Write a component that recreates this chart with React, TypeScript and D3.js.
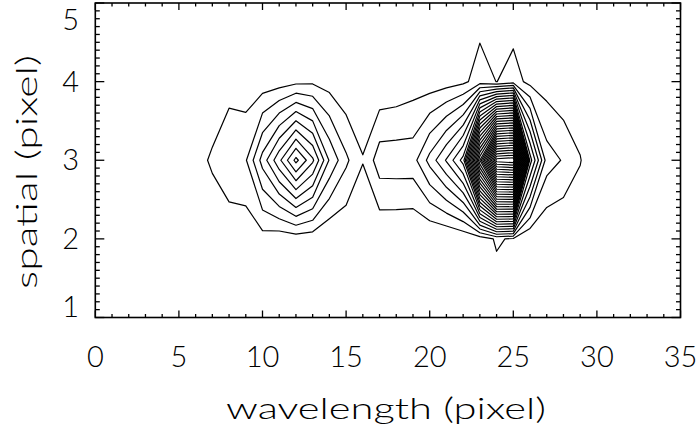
import * as d3 from "d3";

// grid of intensity, one row per spatial pixel (y = 1..5), one column per wavelength pixel (x = 0..35)
const ROW_Y1 = [0, 0, 0, 0, 0, 0, 0, 0, 0, 0, 0, 0, 0, 0, 0, 0, 0, 0, 0, 0, 0, 0, 0, 0, 0.2, 0, 0, 0, 0, 0, 0, 0, 0, 0, 0, 0];
const ROW_Y2 = [0, 0, 0, 0, 0, 0, 0, 0, 0.51, 0.35, 0.6, 0.36, 0.47, 0.39, 0, 0.1, 0.4, 0.08, 0.05, 0, 0, 0, 0.2, 0.4, 1.15, 0.85, 0, 0, 0, 0.3, 0, 0, 0, 0, 0, 0];
const ROW_Y3 = [0, 0, 0, 0, 0, 0, 0.5, 1.2, 1.55, 1.9, 4.4, 6.75, 9.3, 7.2, 3.9, 2.2, 1.03, 2.57, 2.6, 2.6, 4.35, 6.1, 8.4, 21, 32.6, 33, 7.5, 2.5, 1.9, 1.05, 0.2, 0, 0, 0, 0, 0];
const ROW_Y4 = [0, 0, 0, 0, 0, 0, 0, 0, 0.72, 0.42, 0.4, 0.5, 0.74, 0.81, 0.53, 0.13, 0.6, 0.12, 0.25, 0.5, 0.41, 0.56, 0.78, 1.48, 0.98, 1.5, 0.67, 0.5, 0.14, 0.3, 0, 0, 0, 0, 0, 0];
const ROW_Y5 = [0, 0, 0, 0, 0, 0, 0, 0, 0, 0, 0, 0, 0, 0, 0, 0, 0, 0, 0, 0, 0, 0, 0, 0.5, 0.3, 0.3, 0, 0, 0, 0, 0, 0, 0, 0, 0, 0];

const LEVELS = [1, 2, 3, 4, 5, 6, 7, 8, 9, 10, 11, 12, 13, 14, 15, 16, 17, 18, 19, 20, 21, 22, 23, 24, 25, 26, 27, 28, 29, 30, 31, 32];

const X_TICKS = [0, 5, 10, 15, 20, 25, 30, 35];
const Y_TICKS = [1, 2, 3, 4, 5];

const W = 700;
const H = 429;
const FONT = "Lato, 'DejaVu Sans', sans-serif";

export default function App() {
  const x = d3.scaleLinear().domain([0, 35]).range([95.3, 680.5]);
  const y = d3.scaleLinear().domain([1, 5]).range([317.5, 3]);

  const rows = [ROW_Y1, ROW_Y2, ROW_Y3, ROW_Y4, ROW_Y5];
  const nx = ROW_Y3.length;
  const ny = rows.length;
  const values = rows.flat();

  const contours = d3.contours().size([nx, ny]).thresholds(LEVELS)(values);

  // d3 puts grid node i at coordinate i + 0.5
  const proj = d3.geoTransform({
    point(px: number, py: number) {
      this.stream.point(x(px - 0.5), y(1 + py - 0.5));
    },
  });
  const path = d3.geoPath(proj);

  const [x0, x1] = x.range();
  const [yb, yt] = y.range();

  const xMinor = d3.range(0, 35.01, 1);
  const yMinor = d3.range(1, 5.001, 0.1);

  const yLabelPos = (v: number) => Math.min(Math.max(y(v), 20), 307);

  return (
    <svg
      width={W}
      height={H}
      viewBox={`0 0 ${W} ${H}`}
      style={{ position: "absolute", left: 0, top: 0, background: "#fff" }}
    >
      <rect x={0} y={0} width={W} height={H} fill="#fff" />
      <g fill="none" stroke="#000" strokeWidth={1.2} strokeLinejoin="round">
        {contours.map((c, i) => (
          <path key={i} d={path(c as any) ?? ""} />
        ))}
      </g>

      {/* ticks */}
      <g stroke="#000" strokeWidth={1.3}>
        {xMinor.map((v) => {
          const len = v % 5 === 0 ? 7 : 3.5;
          return (
            <g key={`xt${v}`}>
              <line x1={x(v)} x2={x(v)} y1={yb} y2={yb - len} />
              <line x1={x(v)} x2={x(v)} y1={yt} y2={yt + len} />
            </g>
          );
        })}
        {yMinor.map((v, i) => {
          const len = i % 10 === 0 ? 9 : 4.5;
          return (
            <g key={`yt${i}`}>
              <line x1={x0} x2={x0 + len} y1={y(v)} y2={y(v)} />
              <line x1={x1} x2={x1 - len} y1={y(v)} y2={y(v)} />
            </g>
          );
        })}
      </g>
      <rect x={x0} y={yt} width={x1 - x0} height={yb - yt} fill="none" stroke="#000" strokeWidth={1.6} />

      <g fontFamily={FONT} fontWeight={300} fontSize={29} fill="#000">
        {X_TICKS.map((v) => (
          <text key={`xl${v}`} x={x(v)} y={367} textAnchor="middle">
            {v}
          </text>
        ))}
        {Y_TICKS.map((v) => (
          <text key={`yl${v}`} x={79} y={yLabelPos(v) + 10} textAnchor="end">
            {v}
          </text>
        ))}
        <text x={386} y={419} textAnchor="middle" textLength={320} lengthAdjust="spacingAndGlyphs">
          wavelength (pixel)
        </text>
        <text
          transform={`translate(37,172) rotate(-90)`}
          textAnchor="middle"
          textLength={234}
          lengthAdjust="spacingAndGlyphs"
        >
          spatial (pixel)
        </text>
      </g>
    </svg>
  );
}
